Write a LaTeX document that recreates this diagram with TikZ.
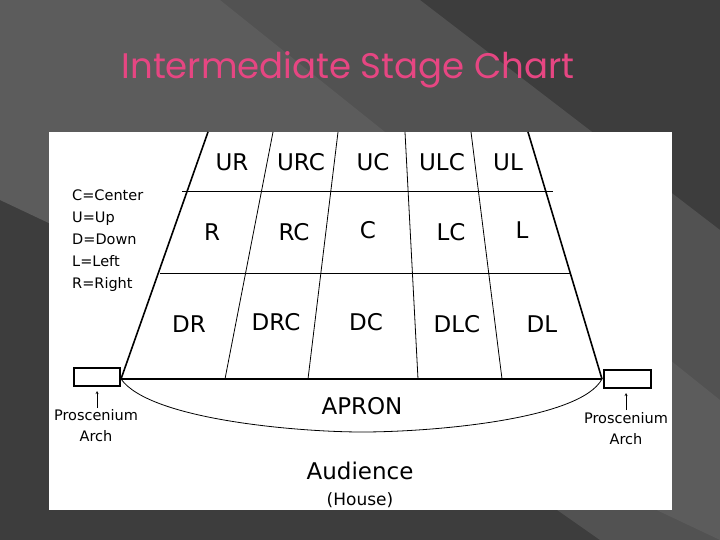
\documentclass[tikz,border=0pt]{standalone}
\usepackage{fontspec}
\setmainfont{DejaVu Sans}
\newfontfamily\titlefont{Poppins}
\begin{document}
\begin{tikzpicture}[x=1pt,y=-1pt,
  lab/.style={font=\fontsize{23}{25}\selectfont},
  small/.style={font=\fontsize{14.5}{21}\selectfont, align=center},
  ln/.style={line width=0.8pt},
  bd/.style={line width=1.6pt}]
\useasboundingbox (0,0) rectangle (720,540);
\fill[black!76] (0,0) rectangle (720,540);
\fill[black!68] (0,0) -- (420,0) -- (720,230) -- (720,540) -- (600,540) -- (0,120) -- cycle;
\fill[black!64] (0,0) -- (220,0) -- (720,400) -- (720,540) -- (0,200) -- cycle;
\node[font=\titlefont\fontsize{35.5}{38}\selectfont, text={rgb,255:red,230;green,70;blue,130}] (title) at (348,70) {Intermediate Stage Chart};
\fill[white] (49,132) rectangle (672,510);
% trapezoid
\coordinate (tl) at (208,132); \coordinate (tr) at (528,132);
\coordinate (bl) at (121,379); \coordinate (br) at (602,379);
\draw[bd] (tl) -- (bl); \draw[bd] (tr) -- (br); \draw[bd] (bl) -- (br);
\draw[ln] (182,191) -- (553,191);
\draw[ln] (160,273) -- (570,273);
\draw[ln] (273,132) -- (225,379);
\draw[ln] (338,132) -- (308,379);
\draw[ln] (405,132) -- (418,379);
\draw[ln] (471,132) -- (502,379);
% apron
\draw[ln] (bl) .. controls (150,420) and (300,432) .. (362,432) .. controls (430,432) and (580,420) .. (br);
% proscenium
\draw[line width=1.2pt] (74,368) rectangle (120,386);
\draw[line width=1.2pt] (604,370) rectangle (651,388);
\draw[-stealth] (97,408) -- (97,391);
\draw[-stealth] (626,410) -- (626,393);
\node[small] (pl) at (96,426) {Proscenium\\Arch};
\node[small] (pr) at (626,429) {Proscenium\\Arch};
% legend
\node[font=\fontsize{14.5}{21.8}\selectfont, align=left, anchor=north west, inner sep=0pt] (leg) at (72,190) {C=Center\\U=Up\\D=Down\\L=Left\\R=Right};
% labels
\node[lab] (UR) at (232,162) {UR}; \node[lab] (URC) at (301,162) {URC};
\node[lab] (UC) at (373,162) {UC}; \node[lab] (ULC) at (442,162) {ULC};
\node[lab] (UL) at (508,162) {UL};
\node[lab] (R) at (212,232) {R}; \node[lab] (RC) at (294,232) {RC};
\node[lab] (C) at (368,230) {C}; \node[lab] (LC) at (451,232) {LC};
\node[lab] (L) at (522,230) {L};
\node[lab] (DR) at (189,324) {DR}; \node[lab] (DRC) at (276,322) {DRC};
\node[lab] (DC) at (366,322) {DC}; \node[lab] (DLC) at (457,324) {DLC};
\node[lab] (DL) at (542,324) {DL};
\node[lab] (apron) at (362,406) {APRON};
\node[lab] (aud) at (360,471) {Audience};
\node[font=\fontsize{17}{19}\selectfont] (house) at (360,500) {(House)};
\end{tikzpicture}
\end{document}
